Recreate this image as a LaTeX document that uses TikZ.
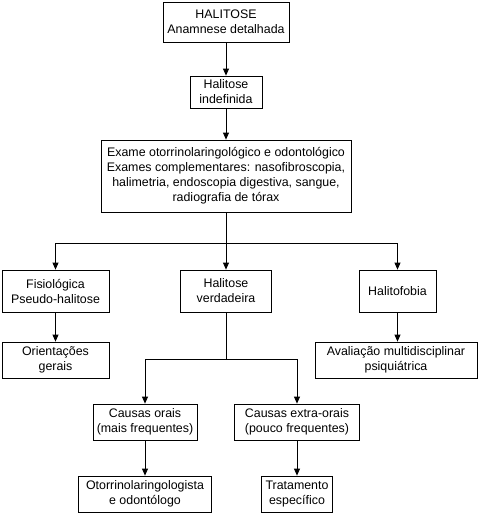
\documentclass[tikz,border=0pt]{standalone}
\usepackage{fontspec}
\setmainfont{Liberation Sans}
\usetikzlibrary{arrows.meta}
\begin{document}
\begin{tikzpicture}[x=1pt,y=-1pt,
  box/.style={draw, line width=0.8pt, rectangle, inner sep=0pt, align=center,
    font=\fontsize{12.4}{15}\selectfont, fill=white},
  arr/.style={line width=0.8pt, -{Triangle[length=7pt,width=6pt]}},
  ln/.style={line width=0.8pt}]
\useasboundingbox (0,0) rectangle (479,515);
\node[box, minimum width=126pt, minimum height=40pt] (b1) at (226,22) {HALITOSE\\Anamnese detalhada};
\node[box, minimum width=72pt, minimum height=32pt] (b2) at (226,92) {Halitose\\indefinida};
\node[box, minimum width=250pt, minimum height=72pt] (b3) at (226,176) {Exame otorrinolaringológico e odontológico\\Exames complementares: nasofibroscopia,\\halimetria, endoscopia digestiva, sangue,\\radiografia de tórax};
\node[box, minimum width=107pt, minimum height=42pt] (fis) at (55.5,291) {Fisiológica\\Pseudo-halitose};
\node[box, minimum width=91pt, minimum height=42pt] (hv) at (226,291) {Halitose\\verdadeira};
\node[box, minimum width=77pt, minimum height=42pt] (hf) at (397.5,291) {Halitofobia};
\node[box, minimum width=107pt, minimum height=36pt] (ori) at (55.5,360) {Orientações\\gerais};
\node[box, minimum width=162pt, minimum height=36pt] (av) at (396,360) {Avaliação multidisciplinar\\psiquiátrica};
\node[box, minimum width=104pt, minimum height=36pt] (co) at (145,422) {Causas orais\\(mais frequentes)};
\node[box, minimum width=125pt, minimum height=36pt] (ce) at (297,422) {Causas extra-orais\\(pouco frequentes)};
\node[box, minimum width=133pt, minimum height=36pt] (oto) at (145,494) {Otorrinolaringologista\\e odontólogo};
\node[box, minimum width=71pt, minimum height=36pt] (tr) at (297,494) {Tratamento\\específico};
\coordinate (j1) at (226,243);
\coordinate (j2) at (226,359);
\draw[arr] (b1) -- (b2);
\draw[arr] (b2) -- (b3);
\draw[ln] (b3) -- (j1);
\draw[arr] (j1) -| (fis.north);
\draw[arr] (j1) -- (hv);
\draw[arr] (j1) -| (hf.north);
\draw[arr] (fis) -- (ori);
\draw[arr] (hf) -- (hf |- av.north);
\draw[ln] (hv) -- (j2);
\draw[arr] (j2) -| (co.north);
\draw[arr] (j2) -| (ce.north);
\draw[arr] (co) -- (oto);
\draw[arr] (ce) -- (tr);
\end{tikzpicture}
\end{document}
